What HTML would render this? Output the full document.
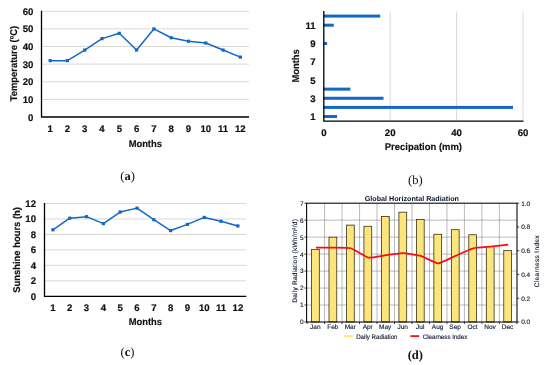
<!DOCTYPE html>
<html lang="en">
<head>
<meta charset="utf-8">
<title>Climate charts</title>
<style>
html,body{margin:0;padding:0;background:#fff;}
svg{display:block;}
text{text-rendering:geometricPrecision;}
.tk{font-family:'Liberation Sans', Arial, sans-serif;font-weight:bold;font-size:9.6px;fill:#111;stroke:#111;stroke-width:0.2px;}
.ttl{font-family:'Liberation Sans', Arial, sans-serif;font-weight:bold;font-size:9.8px;fill:#111;stroke:#111;stroke-width:0.15px;}
.ttv{font-family:'Liberation Sans', Arial, sans-serif;font-weight:bold;font-size:9.8px;fill:#111;stroke:#111;stroke-width:0.15px;}
.sm{font-family:'Liberation Sans', Arial, sans-serif;font-size:6.5px;fill:#0c1428;stroke:#0c1428;stroke-width:0.12px;}
.dt{font-family:'Liberation Sans', Arial, sans-serif;font-weight:bold;font-size:7.2px;fill:#0c1428;}
.cap{font-family:'Liberation Serif', 'Times New Roman', serif;font-size:12.5px;fill:#111;}
</style>
</head>
<body>
<svg width="550" height="365" viewBox="0 0 550 365">
<rect width="550" height="365" fill="#fff"/>
<line x1="41.5" y1="99.38" x2="249" y2="99.38" stroke="#d9d9d9" stroke-width="1"/>
<line x1="41.5" y1="81.77" x2="249" y2="81.77" stroke="#d9d9d9" stroke-width="1"/>
<line x1="41.5" y1="64.15" x2="249" y2="64.15" stroke="#d9d9d9" stroke-width="1"/>
<line x1="41.5" y1="46.53" x2="249" y2="46.53" stroke="#d9d9d9" stroke-width="1"/>
<line x1="41.5" y1="28.92" x2="249" y2="28.92" stroke="#d9d9d9" stroke-width="1"/>
<line x1="41.5" y1="11.30" x2="249" y2="11.30" stroke="#d9d9d9" stroke-width="1"/>
<text x="33.3" y="120.50" text-anchor="end" class="tk">0</text>
<text x="33.3" y="102.88" text-anchor="end" class="tk">10</text>
<text x="33.3" y="85.27" text-anchor="end" class="tk">20</text>
<text x="33.3" y="67.65" text-anchor="end" class="tk">30</text>
<text x="33.3" y="50.03" text-anchor="end" class="tk">40</text>
<text x="33.3" y="32.42" text-anchor="end" class="tk">50</text>
<text x="33.3" y="14.80" text-anchor="end" class="tk">60</text>
<path d="M41.5 10.8 V117 H249" fill="none" stroke="#000" stroke-width="1.3"/>
<text x="50.15" y="132.0" text-anchor="middle" class="tk">1</text>
<text x="67.44" y="132.0" text-anchor="middle" class="tk">2</text>
<text x="84.73" y="132.0" text-anchor="middle" class="tk">3</text>
<text x="102.02" y="132.0" text-anchor="middle" class="tk">4</text>
<text x="119.31" y="132.0" text-anchor="middle" class="tk">5</text>
<text x="136.60" y="132.0" text-anchor="middle" class="tk">6</text>
<text x="153.90" y="132.0" text-anchor="middle" class="tk">7</text>
<text x="171.19" y="132.0" text-anchor="middle" class="tk">8</text>
<text x="188.48" y="132.0" text-anchor="middle" class="tk">9</text>
<text x="205.77" y="132.0" text-anchor="middle" class="tk">10</text>
<text x="223.06" y="132.0" text-anchor="middle" class="tk">11</text>
<text x="240.35" y="132.0" text-anchor="middle" class="tk">12</text>
<text transform="translate(145.25 146.8) scale(0.955 1)" text-anchor="middle" class="ttl">Months</text>
<text transform="translate(17.1 63.60) rotate(-90) scale(0.96 1)" text-anchor="middle" class="ttv">Temperature (ºC)</text>
<polyline fill="none" stroke="#1268c4" stroke-width="1.5" stroke-linejoin="round" points="50.15,60.63 67.44,60.63 84.73,50.06 102.02,38.61 119.31,33.32 136.60,50.06 153.90,28.92 171.19,37.72 188.48,41.25 205.77,43.01 223.06,50.06 240.35,57.10"/>
<rect x="48.55" y="59.03" width="3.2" height="3.2" fill="#1268c4"/>
<rect x="65.84" y="59.03" width="3.2" height="3.2" fill="#1268c4"/>
<rect x="83.13" y="48.46" width="3.2" height="3.2" fill="#1268c4"/>
<rect x="100.42" y="37.01" width="3.2" height="3.2" fill="#1268c4"/>
<rect x="117.71" y="31.72" width="3.2" height="3.2" fill="#1268c4"/>
<rect x="135.00" y="48.46" width="3.2" height="3.2" fill="#1268c4"/>
<rect x="152.30" y="27.32" width="3.2" height="3.2" fill="#1268c4"/>
<rect x="169.59" y="36.12" width="3.2" height="3.2" fill="#1268c4"/>
<rect x="186.88" y="39.65" width="3.2" height="3.2" fill="#1268c4"/>
<rect x="204.17" y="41.41" width="3.2" height="3.2" fill="#1268c4"/>
<rect x="221.46" y="48.46" width="3.2" height="3.2" fill="#1268c4"/>
<rect x="238.75" y="55.50" width="3.2" height="3.2" fill="#1268c4"/>
<line x1="44.5" y1="280.83" x2="246.3" y2="280.83" stroke="#d9d9d9" stroke-width="1"/>
<line x1="44.5" y1="265.37" x2="246.3" y2="265.37" stroke="#d9d9d9" stroke-width="1"/>
<line x1="44.5" y1="249.90" x2="246.3" y2="249.90" stroke="#d9d9d9" stroke-width="1"/>
<line x1="44.5" y1="234.43" x2="246.3" y2="234.43" stroke="#d9d9d9" stroke-width="1"/>
<line x1="44.5" y1="218.97" x2="246.3" y2="218.97" stroke="#d9d9d9" stroke-width="1"/>
<line x1="44.5" y1="203.50" x2="246.3" y2="203.50" stroke="#d9d9d9" stroke-width="1"/>
<text x="36.0" y="299.80" text-anchor="end" class="tk">0</text>
<text x="36.0" y="284.33" text-anchor="end" class="tk">2</text>
<text x="36.0" y="268.87" text-anchor="end" class="tk">4</text>
<text x="36.0" y="253.40" text-anchor="end" class="tk">6</text>
<text x="36.0" y="237.93" text-anchor="end" class="tk">8</text>
<text x="36.0" y="222.47" text-anchor="end" class="tk">10</text>
<text x="36.0" y="207.00" text-anchor="end" class="tk">12</text>
<path d="M44.5 203.0 V296.3 H246.3" fill="none" stroke="#000" stroke-width="1.3"/>
<text x="52.91" y="311.0" text-anchor="middle" class="tk">1</text>
<text x="69.72" y="311.0" text-anchor="middle" class="tk">2</text>
<text x="86.54" y="311.0" text-anchor="middle" class="tk">3</text>
<text x="103.36" y="311.0" text-anchor="middle" class="tk">4</text>
<text x="120.17" y="311.0" text-anchor="middle" class="tk">5</text>
<text x="136.99" y="311.0" text-anchor="middle" class="tk">6</text>
<text x="153.81" y="311.0" text-anchor="middle" class="tk">7</text>
<text x="170.62" y="311.0" text-anchor="middle" class="tk">8</text>
<text x="187.44" y="311.0" text-anchor="middle" class="tk">9</text>
<text x="204.26" y="311.0" text-anchor="middle" class="tk">10</text>
<text x="221.07" y="311.0" text-anchor="middle" class="tk">11</text>
<text x="237.89" y="311.0" text-anchor="middle" class="tk">12</text>
<text transform="translate(145.40 325.1) scale(0.955 1)" text-anchor="middle" class="ttl">Months</text>
<text transform="translate(20.4 249.90) rotate(-90) scale(0.96 1)" text-anchor="middle" class="ttv">Sunshine hours (h)</text>
<polyline fill="none" stroke="#1268c4" stroke-width="1.5" stroke-linejoin="round" points="52.91,229.79 69.72,218.19 86.54,216.65 103.36,223.61 120.17,212.01 136.99,208.14 153.81,219.74 170.62,230.57 187.44,224.38 204.26,217.42 221.07,221.29 237.89,225.93"/>
<rect x="51.31" y="228.19" width="3.2" height="3.2" fill="#1268c4"/>
<rect x="68.12" y="216.59" width="3.2" height="3.2" fill="#1268c4"/>
<rect x="84.94" y="215.05" width="3.2" height="3.2" fill="#1268c4"/>
<rect x="101.76" y="222.01" width="3.2" height="3.2" fill="#1268c4"/>
<rect x="118.58" y="210.41" width="3.2" height="3.2" fill="#1268c4"/>
<rect x="135.39" y="206.54" width="3.2" height="3.2" fill="#1268c4"/>
<rect x="152.21" y="218.14" width="3.2" height="3.2" fill="#1268c4"/>
<rect x="169.03" y="228.97" width="3.2" height="3.2" fill="#1268c4"/>
<rect x="185.84" y="222.78" width="3.2" height="3.2" fill="#1268c4"/>
<rect x="202.66" y="215.82" width="3.2" height="3.2" fill="#1268c4"/>
<rect x="219.47" y="219.69" width="3.2" height="3.2" fill="#1268c4"/>
<rect x="236.29" y="224.33" width="3.2" height="3.2" fill="#1268c4"/>
<line x1="390.20" y1="11.5" x2="390.20" y2="121.1" stroke="#d9d9d9" stroke-width="1"/>
<line x1="456.60" y1="11.5" x2="456.60" y2="121.1" stroke="#d9d9d9" stroke-width="1"/>
<line x1="523.00" y1="11.5" x2="523.00" y2="121.1" stroke="#d9d9d9" stroke-width="1"/>
<rect x="323.8" y="115.03" width="13.28" height="3" fill="#1268c4"/>
<rect x="323.8" y="105.90" width="189.24" height="3" fill="#1268c4"/>
<rect x="323.8" y="96.77" width="59.76" height="3" fill="#1268c4"/>
<rect x="323.8" y="87.63" width="26.56" height="3" fill="#1268c4"/>
<rect x="323.8" y="41.97" width="3.32" height="3" fill="#1268c4"/>
<rect x="323.8" y="23.70" width="9.96" height="3" fill="#1268c4"/>
<rect x="323.8" y="14.57" width="56.44" height="3" fill="#1268c4"/>
<path d="M323.8 11.0 V121.1 H523.5" fill="none" stroke="#000" stroke-width="1.3"/>
<text x="315.6" y="120.03" text-anchor="end" class="tk">1</text>
<text x="315.6" y="101.77" text-anchor="end" class="tk">3</text>
<text x="315.6" y="83.50" text-anchor="end" class="tk">5</text>
<text x="315.6" y="65.23" text-anchor="end" class="tk">7</text>
<text x="315.6" y="46.97" text-anchor="end" class="tk">9</text>
<text x="315.6" y="28.70" text-anchor="end" class="tk">11</text>
<text x="323.80" y="135.9" text-anchor="middle" class="tk">0</text>
<text x="390.20" y="135.9" text-anchor="middle" class="tk">20</text>
<text x="456.60" y="135.9" text-anchor="middle" class="tk">40</text>
<text x="523.00" y="135.9" text-anchor="middle" class="tk">60</text>
<text transform="translate(423.40 150.4) scale(0.965 1)" text-anchor="middle" class="ttl">Precipation (mm)</text>
<text transform="translate(299.2 65.9) rotate(-90) scale(0.96 1)" text-anchor="middle" class="ttv">Months</text>
<rect x="306.6" y="203.2" width="210.40" height="118.80" fill="#fff"/>
<line x1="306.6" y1="305.03" x2="517" y2="305.03" stroke="#666" stroke-width="0.45"/>
<line x1="306.6" y1="288.06" x2="517" y2="288.06" stroke="#666" stroke-width="0.45"/>
<line x1="306.6" y1="271.09" x2="517" y2="271.09" stroke="#666" stroke-width="0.45"/>
<line x1="306.6" y1="254.11" x2="517" y2="254.11" stroke="#666" stroke-width="0.45"/>
<line x1="306.6" y1="237.14" x2="517" y2="237.14" stroke="#666" stroke-width="0.45"/>
<line x1="306.6" y1="220.17" x2="517" y2="220.17" stroke="#666" stroke-width="0.45"/>
<line x1="324.58" y1="203.2" x2="324.58" y2="322" stroke="#666" stroke-width="0.45"/>
<line x1="342.06" y1="203.2" x2="342.06" y2="322" stroke="#666" stroke-width="0.45"/>
<line x1="359.54" y1="203.2" x2="359.54" y2="322" stroke="#666" stroke-width="0.45"/>
<line x1="377.02" y1="203.2" x2="377.02" y2="322" stroke="#666" stroke-width="0.45"/>
<line x1="394.50" y1="203.2" x2="394.50" y2="322" stroke="#666" stroke-width="0.45"/>
<line x1="411.98" y1="203.2" x2="411.98" y2="322" stroke="#666" stroke-width="0.45"/>
<line x1="429.46" y1="203.2" x2="429.46" y2="322" stroke="#666" stroke-width="0.45"/>
<line x1="446.94" y1="203.2" x2="446.94" y2="322" stroke="#666" stroke-width="0.45"/>
<line x1="464.42" y1="203.2" x2="464.42" y2="322" stroke="#666" stroke-width="0.45"/>
<line x1="481.90" y1="203.2" x2="481.90" y2="322" stroke="#666" stroke-width="0.45"/>
<line x1="499.38" y1="203.2" x2="499.38" y2="322" stroke="#666" stroke-width="0.45"/>
<rect x="311.50" y="249.36" width="7.8" height="72.64" fill="#fbe57c" stroke="#2a2410" stroke-width="0.75"/>
<rect x="328.98" y="237.14" width="7.8" height="84.86" fill="#fbe57c" stroke="#2a2410" stroke-width="0.75"/>
<rect x="346.46" y="225.09" width="7.8" height="96.91" fill="#fbe57c" stroke="#2a2410" stroke-width="0.75"/>
<rect x="363.94" y="226.28" width="7.8" height="95.72" fill="#fbe57c" stroke="#2a2410" stroke-width="0.75"/>
<rect x="381.42" y="216.44" width="7.8" height="105.56" fill="#fbe57c" stroke="#2a2410" stroke-width="0.75"/>
<rect x="398.90" y="212.19" width="7.8" height="109.81" fill="#fbe57c" stroke="#2a2410" stroke-width="0.75"/>
<rect x="416.38" y="219.49" width="7.8" height="102.51" fill="#fbe57c" stroke="#2a2410" stroke-width="0.75"/>
<rect x="433.86" y="234.26" width="7.8" height="87.74" fill="#fbe57c" stroke="#2a2410" stroke-width="0.75"/>
<rect x="451.34" y="229.68" width="7.8" height="92.32" fill="#fbe57c" stroke="#2a2410" stroke-width="0.75"/>
<rect x="468.82" y="234.77" width="7.8" height="87.23" fill="#fbe57c" stroke="#2a2410" stroke-width="0.75"/>
<rect x="486.30" y="246.48" width="7.8" height="75.52" fill="#fbe57c" stroke="#2a2410" stroke-width="0.75"/>
<rect x="503.78" y="250.55" width="7.8" height="71.45" fill="#fbe57c" stroke="#2a2410" stroke-width="0.75"/>
<rect x="306.6" y="203.2" width="210.40" height="118.80" fill="none" stroke="#0a0a0a" stroke-width="1.1"/>
<line x1="304.40000000000003" y1="322.00" x2="306.6" y2="322.00" stroke="#111" stroke-width="0.8"/>
<text x="303.60" y="324.40" text-anchor="end" class="sm">0</text>
<line x1="304.40000000000003" y1="305.03" x2="306.6" y2="305.03" stroke="#111" stroke-width="0.8"/>
<text x="303.60" y="307.43" text-anchor="end" class="sm">1</text>
<line x1="304.40000000000003" y1="288.06" x2="306.6" y2="288.06" stroke="#111" stroke-width="0.8"/>
<text x="303.60" y="290.46" text-anchor="end" class="sm">2</text>
<line x1="304.40000000000003" y1="271.09" x2="306.6" y2="271.09" stroke="#111" stroke-width="0.8"/>
<text x="303.60" y="273.49" text-anchor="end" class="sm">3</text>
<line x1="304.40000000000003" y1="254.11" x2="306.6" y2="254.11" stroke="#111" stroke-width="0.8"/>
<text x="303.60" y="256.51" text-anchor="end" class="sm">4</text>
<line x1="304.40000000000003" y1="237.14" x2="306.6" y2="237.14" stroke="#111" stroke-width="0.8"/>
<text x="303.60" y="239.54" text-anchor="end" class="sm">5</text>
<line x1="304.40000000000003" y1="220.17" x2="306.6" y2="220.17" stroke="#111" stroke-width="0.8"/>
<text x="303.60" y="222.57" text-anchor="end" class="sm">6</text>
<line x1="304.40000000000003" y1="203.20" x2="306.6" y2="203.20" stroke="#111" stroke-width="0.8"/>
<text x="303.60" y="205.60" text-anchor="end" class="sm">7</text>
<line x1="517" y1="322.00" x2="519.2" y2="322.00" stroke="#111" stroke-width="0.8"/>
<text x="521.20" y="324.30" class="sm">0.0</text>
<line x1="517" y1="298.24" x2="519.2" y2="298.24" stroke="#111" stroke-width="0.8"/>
<text x="521.20" y="300.54" class="sm">0.2</text>
<line x1="517" y1="274.48" x2="519.2" y2="274.48" stroke="#111" stroke-width="0.8"/>
<text x="521.20" y="276.78" class="sm">0.4</text>
<line x1="517" y1="250.72" x2="519.2" y2="250.72" stroke="#111" stroke-width="0.8"/>
<text x="521.20" y="253.02" class="sm">0.6</text>
<line x1="517" y1="226.96" x2="519.2" y2="226.96" stroke="#111" stroke-width="0.8"/>
<text x="521.20" y="229.26" class="sm">0.8</text>
<line x1="517" y1="203.20" x2="519.2" y2="203.20" stroke="#111" stroke-width="0.8"/>
<text x="521.20" y="205.50" class="sm">1.0</text>
<line x1="307.10" y1="322" x2="307.10" y2="324" stroke="#111" stroke-width="0.8"/>
<line x1="324.58" y1="322" x2="324.58" y2="324" stroke="#111" stroke-width="0.8"/>
<line x1="342.06" y1="322" x2="342.06" y2="324" stroke="#111" stroke-width="0.8"/>
<line x1="359.54" y1="322" x2="359.54" y2="324" stroke="#111" stroke-width="0.8"/>
<line x1="377.02" y1="322" x2="377.02" y2="324" stroke="#111" stroke-width="0.8"/>
<line x1="394.50" y1="322" x2="394.50" y2="324" stroke="#111" stroke-width="0.8"/>
<line x1="411.98" y1="322" x2="411.98" y2="324" stroke="#111" stroke-width="0.8"/>
<line x1="429.46" y1="322" x2="429.46" y2="324" stroke="#111" stroke-width="0.8"/>
<line x1="446.94" y1="322" x2="446.94" y2="324" stroke="#111" stroke-width="0.8"/>
<line x1="464.42" y1="322" x2="464.42" y2="324" stroke="#111" stroke-width="0.8"/>
<line x1="481.90" y1="322" x2="481.90" y2="324" stroke="#111" stroke-width="0.8"/>
<line x1="499.38" y1="322" x2="499.38" y2="324" stroke="#111" stroke-width="0.8"/>
<line x1="516.86" y1="322" x2="516.86" y2="324" stroke="#111" stroke-width="0.8"/>
<text x="315.30" y="328.9" text-anchor="middle" class="sm">Jan</text>
<text x="332.78" y="328.9" text-anchor="middle" class="sm">Feb</text>
<text x="350.26" y="328.9" text-anchor="middle" class="sm">Mar</text>
<text x="367.74" y="328.9" text-anchor="middle" class="sm">Apr</text>
<text x="385.22" y="328.9" text-anchor="middle" class="sm">May</text>
<text x="402.70" y="328.9" text-anchor="middle" class="sm">Jun</text>
<text x="420.18" y="328.9" text-anchor="middle" class="sm">Jul</text>
<text x="437.66" y="328.9" text-anchor="middle" class="sm">Aug</text>
<text x="455.14" y="328.9" text-anchor="middle" class="sm">Sep</text>
<text x="472.62" y="328.9" text-anchor="middle" class="sm">Oct</text>
<text x="490.10" y="328.9" text-anchor="middle" class="sm">Nov</text>
<text x="507.58" y="328.9" text-anchor="middle" class="sm">Dec</text>
<path d="M315.90 247.63 C316.95 247.63 331.28 247.60 333.38 247.63 C335.48 247.67 348.76 247.63 350.86 248.23 C352.96 248.82 366.24 257.19 368.34 257.61 C370.44 258.03 383.72 255.50 385.82 255.23 C387.92 254.97 401.20 253.17 403.30 253.21 C405.40 253.26 418.68 255.33 420.78 255.95 C422.88 256.56 436.16 263.45 438.26 263.43 C440.36 263.42 453.64 256.61 455.74 255.71 C457.84 254.80 471.12 248.89 473.22 248.34 C475.32 247.80 488.60 246.90 490.70 246.68 C492.80 246.46 507.13 244.78 508.18 244.66" fill="none" stroke="#f80c14" stroke-width="1.75" stroke-linecap="butt" stroke-linejoin="round"/>
<text x="411.80" y="201" text-anchor="middle" class="dt">Global Horizontal Radiation</text>
<text transform="translate(297.2 302.7) rotate(-90)" textLength="83.5" lengthAdjust="spacing" class="sm">Daily Radiation (kWh/m²/d)</text>
<text transform="translate(539.2 287.3) rotate(-90)" textLength="51.9" lengthAdjust="spacing" class="sm">Clearness Index</text>
<line x1="344" y1="336.1" x2="353.2" y2="336.1" stroke="#fbe27a" stroke-width="1.6"/>
<text x="356.2" y="338.5" class="sm" textLength="41.3" lengthAdjust="spacingAndGlyphs">Daily Radiation</text>
<line x1="410.4" y1="336.1" x2="419.2" y2="336.1" stroke="#f0131b" stroke-width="1.8"/>
<text x="422.7" y="338.5" class="sm" textLength="44.6" lengthAdjust="spacingAndGlyphs">Clearness Index</text>
<text x="127.5" y="180" text-anchor="middle" class="cap">(<tspan font-weight="bold">a</tspan>)</text>
<text x="415.3" y="183.9" text-anchor="middle" class="cap">(b)</text>
<text x="127.5" y="356.2" text-anchor="middle" class="cap">(<tspan font-weight="bold">c</tspan>)</text>
<text x="415.3" y="358.6" text-anchor="middle" class="cap" font-weight="bold">(d)</text>
</svg>
</body>
</html>
